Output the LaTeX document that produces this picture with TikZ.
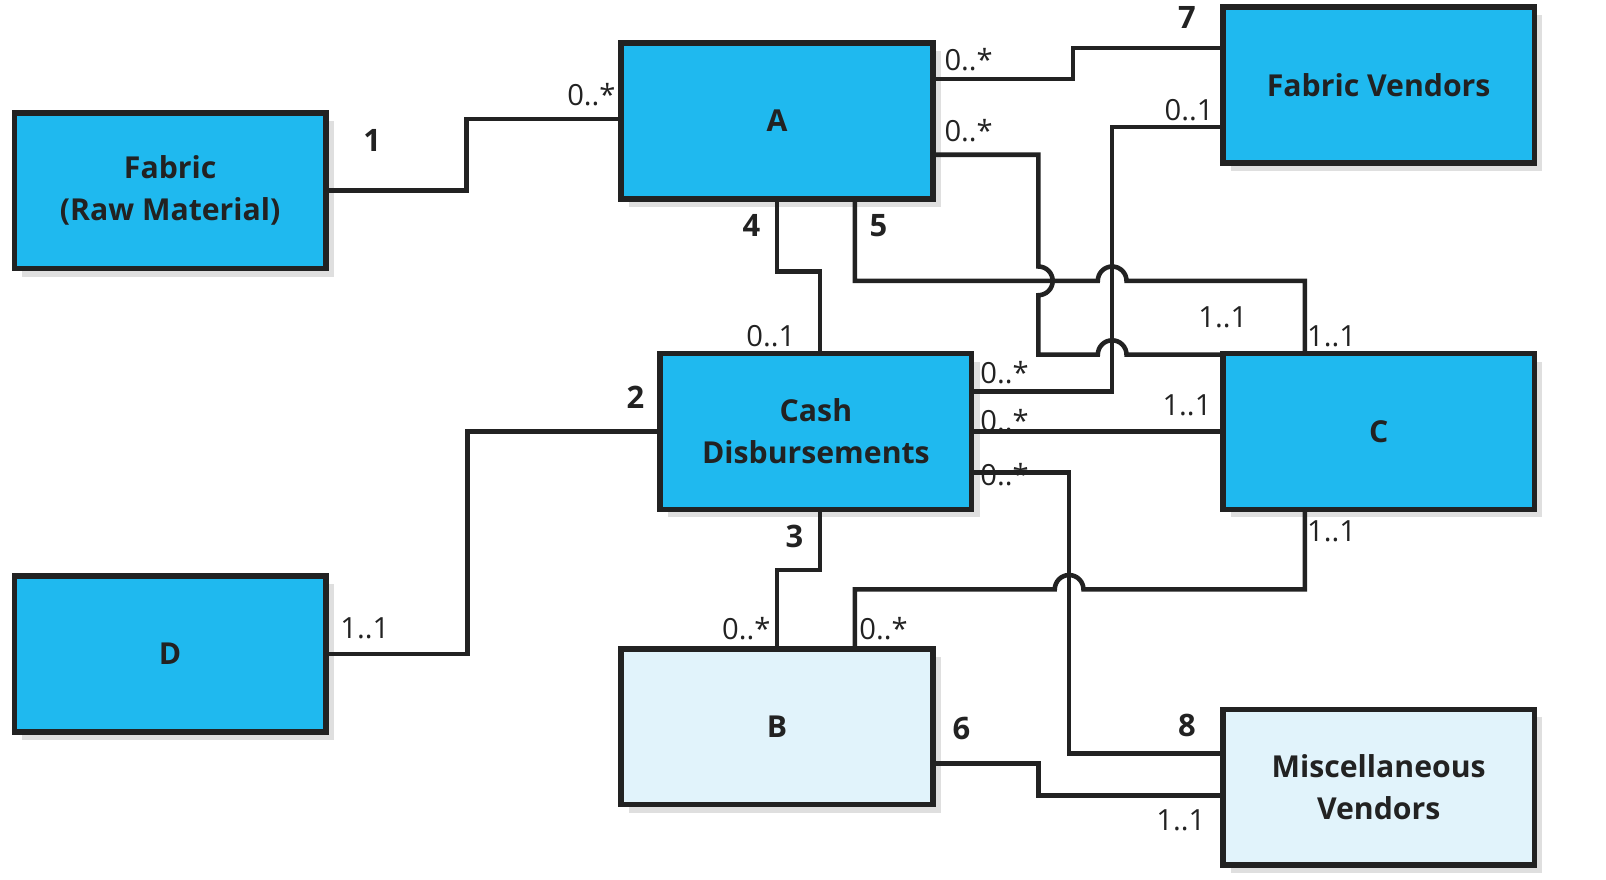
\documentclass[tikz,border=0pt]{standalone}
\usepackage{fontspec}
\setmainfont{Open Sans}
\usetikzlibrary{shadows}
\definecolor{dblue}{HTML}{1FB9EF}
\definecolor{lblue}{HTML}{E1F3FB}
\definecolor{edge}{HTML}{222222}
\begin{document}
\begin{tikzpicture}[x=0.01025cm,y=0.01025cm,
 box/.style={draw=edge,line width=1.6pt,minimum width=3.116cm,minimum height=1.558cm,align=center,font=\fontsize{8.6}{12}\selectfont\bfseries,text=edge,
   drop shadow={shadow xshift=0.08cm,shadow yshift=-0.08cm,fill=gray!25,opacity=1}},
 dk/.style={box,fill=dblue}, lt/.style={box,fill=lblue},
 ln/.style={draw=edge,line width=1.3pt},
 lab/.style={font=\fontsize{8.3}{10}\selectfont,text=edge,inner sep=0pt},
 num/.style={font=\fontsize{8.8}{10}\selectfont\bfseries,text=edge,inner sep=0pt}]
\useasboundingbox (0,0) rectangle (1566.8,-858.5);
\node[dk] (Fab) at (166,-186) {Fabric\\(Raw Material)};
\node[dk] (A) at (758,-118) {A};
\node[dk] (FV) at (1345,-83) {Fabric Vendors};
\node[dk] (CD) at (796,-421) {Cash\\Disbursements};
\node[dk] (C) at (1345,-421) {C};
\node[dk] (D) at (166,-638) {D};
\node[lt] (B) at (758,-709) {B};
\node[lt] (MV) at (1345,-768) {Miscellaneous\\Vendors};
% 1
\draw[ln] (Fab.east) -- (455,-186) -- (455,-116) -- (A.west |- 0,-116);
\node[num] at (363,-137) {1}; \node[lab] at (577,-92) {0..*};
% 7
\draw[ln] (A.east |- 0,-77) -- (1047,-77) -- (1047,-47) -- (FV.west |- 0,-47);
\node[lab] at (945,-58) {0..*}; \node[num] at (1158,-17) {7};
% A - C
\draw[ln] (A.east |- 0,-151) -- (1013,-151) -- (1013,-260) arc(90:-90:14) -- (1013,-346) -- (1071,-346) arc(180:0:14) -- (C.west |- 0,-346);
\node[lab] at (945,-127) {0..*}; \node[lab] at (1193,-310) {1..1};
% 4
\draw[ln] (A.south |- 0,-194) -- (758,-265) -- (800,-265) -- (800,-345);
\node[num] at (733,-220) {4}; \node[lab] at (752,-328) {0..1};
% 5
\draw[ln] (834,-194) -- (834,-274) -- (1071,-274) arc(180:0:14) -- (1273,-274) -- (1273,-345);
\node[num] at (857,-220) {5}; \node[lab] at (1299,-328) {1..1};
% CD - FV
\draw[ln] (CD.east |- 0,-382) -- (1085,-382) -- (1085,-124) -- (FV.west |- 0,-124);
\node[lab] at (980,-364) {0..*}; \node[lab] at (1160,-107) {0..1};
% CD - C
\draw[ln] (CD.east) -- (C.west);
\node[lab] at (980,-410) {0..*}; \node[lab] at (1158,-395) {1..1};
% 8
\draw[ln] (CD.east |- 0,-461) -- (1043,-461) -- (1043,-735) -- (MV.west |- 0,-735);
\node[lab] at (980,-463) {0..*}; \node[num] at (1158,-708) {8};
% 2
\draw[ln] (D.east) -- (456,-638) -- (456,-421) -- (CD.west);
\node[num] at (620,-388) {2}; \node[lab] at (356,-613) {1..1};
% 3
\draw[ln] (800,-496) -- (800,-556) -- (758,-556) -- (B.north);
\node[num] at (775,-523) {3}; \node[lab] at (728,-613) {0..*};
% B - C
\draw[ln] (834,-632) -- (834,-575) -- (1029,-575) arc(180:0:14) -- (1273,-575) -- (1273,-496);
\node[lab] at (862,-613) {0..*}; \node[lab] at (1299,-518) {1..1};
% 6
\draw[ln] (B.east |- 0,-745) -- (1013,-745) -- (1013,-776) -- (MV.west |- 0,-776);
\node[num] at (938,-711) {6}; \node[lab] at (1152,-800) {1..1};
\end{tikzpicture}
\end{document}
